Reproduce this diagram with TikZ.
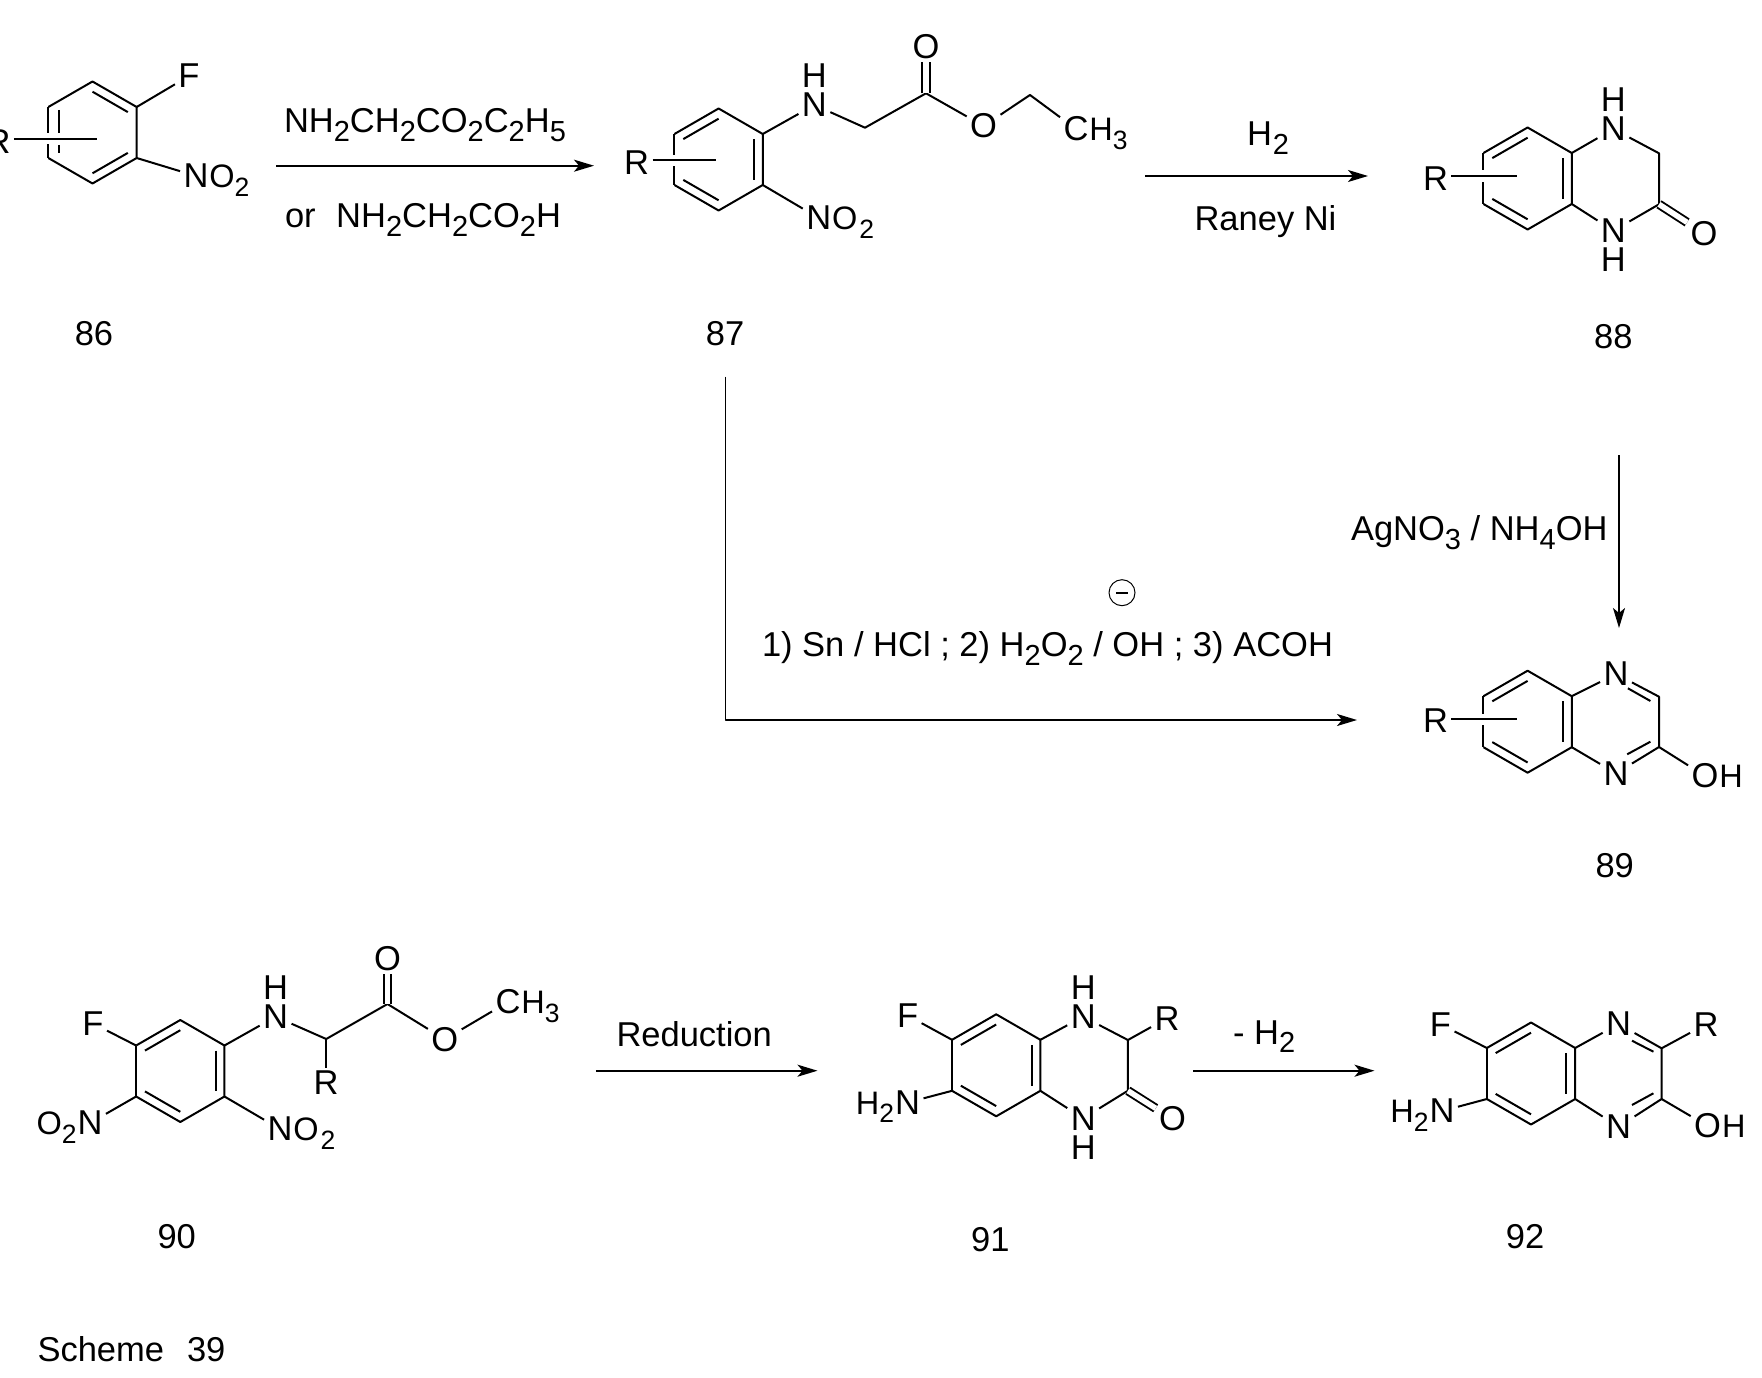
\documentclass[tikz,border=0pt]{standalone}
\usepackage{fontspec}
\setmainfont{Liberation Sans}
\usetikzlibrary{arrows.meta,calc}
\def\subsz{29}
\newcommand{\chemsub}[1]{\raisebox{-8.5pt}{\fontsize{\subsz}{\subsz}\selectfont #1}}
% open ring, corners 1 (top) clockwise to 6, left bond comes apart
\newcommand{\hexring}[3]{%
	\coordinate (#1c) at (#2,#3);
	\foreach \i/\a in {1/-90,2/-30,3/30,4/90,5/150,6/-150}
		\coordinate (#1-\i) at ($(#1c)+(\a:51)$);
	\draw (#1-6)--(#1-1)--(#1-2)--(#1-3)--(#1-4)--(#1-5);
}
\newcommand{\inbond}[3]{\draw ($(#1c)!.8!(#1-#2)$)--($(#1c)!.8!(#1-#3)$);}
\newcommand{\rgap}[2]{%
	\draw (#1-6)--(#1-6 |- 0,#2-5.5);
	\draw (#1-5)--(#1-5 |- 0,#2+5.5);
}
\tikzset{
	atom/.style={inner sep=0pt,outer sep=3.5pt},
	tailr/.style={inner sep=0pt,anchor=base west,xshift=-3.5pt,font=\fontsize{32.5}{36}\selectfont\def\subsz{26.5}},
	taill/.style={inner sep=0pt,anchor=base east,xshift=3.5pt,font=\fontsize{32.5}{36}\selectfont\def\subsz{26.5}},
	txt/.style={inner sep=0pt,anchor=base west},
	num/.style={inner sep=0pt,anchor=base},
	cdbl/.style={double,double distance=5.5pt,line width=1.9pt},
	rxn/.style={->,line width=1.8pt}
}
\begin{document}
\begin{tikzpicture}[>={Stealth[length=20pt,width=12pt,inset=5pt]},x=1pt,y=-1pt,line width=2pt,line join=round,
	every node/.style={font=\fontsize{34.5}{37}\selectfont}]
	\useasboundingbox (0,0) rectangle (1762,1378);
	\foreach \t/\x/\y in {86/94/345,87/725/345,88/1613.4/348.3,89/1614.7/877.3,90/176.7/1248.3,91/990.3/1251.7,92/1525/1248.3}
		\node[num] (n\t) at (\x,\y) {\t};
	% 86
	\hexring{r86}{92.5}{132.5}
	\rgap{r86}{139}
	\inbond{r86}{1}{2}
	\inbond{r86}{3}{4}
	\draw (58.5,110)--(58.5,133) (58.5,145)--(58.5,153);
	\node[atom] (F86) at (189,76) {F};
	\node[atom] (N86) at (196,176) {N};
	\node[tailr] (O86) at (N86.base east) {O\chemsub{2}};
	\node[atom] (R86) at (-2,142) {R};
	\coordinate (b86) at (97,139);
	\draw (r86-2)--(F86);
	\draw (r86-3)--(N86);
	\draw (R86.east |- b86)--(b86);
	% 86 to 87
	\coordinate (a1s) at (276,165.7);
	\coordinate (a1e) at (594,165.7);
	\draw[rxn] (a1s)--(a1e);
	\node[txt] (t1a) at (283,132.7) {NH\chemsub{2}CH\chemsub{2}CO\chemsub{2}C\chemsub{2}H\chemsub{5}};
	\node[txt] (t1b) at (284,227.7) {or\hspace{11pt} NH\chemsub{2}CH\chemsub{2}CO\chemsub{2}H};
	% 87
	\hexring{r87}{718.6}{159.5}
	\rgap{r87}{160.3}
	\inbond{r87}{6}{1}
	\inbond{r87}{2}{3}
	\inbond{r87}{4}{5}
	\node[atom] (R87) at (636.6,162.5) {R};
	\coordinate (b87) at (715.7,160.3);
	\draw (R87.east |- b87)--(b87);
	\node[atom] (N87) at (814.4,105) {N};
	\node[atom] (H87) at (814.4,76) {H};
	\node[atom] (Na87) at (818.7,218) {N};
	\node[tailr] (Oa87) at (Na87.base east) {O\hspace{2pt}\chemsub{2}};
	\node[atom] (O87) at (926,46.7) {O};
	\node[atom] (Oe87) at (983.6,126) {O};
	\node[atom] (C87) at (1076,129) {C};
	\node[tailr] (Ca87) at (C87.base east) {H\chemsub{3}};
	\coordinate (ca87) at (865,127.7);
	\coordinate (cb87) at (926,93.3);
	\coordinate (cc87) at (1030,95);
	\draw (r87-2)--(N87);
	\draw (r87-3)--(Na87);
	\draw (N87)--(ca87)--(cb87)--(Oe87)--(cc87)--(C87);
	\draw[cdbl] (cb87)--(O87);
	% 87 to 88
	\coordinate (a2s) at (1145,176);
	\coordinate (a2e) at (1368,176);
	\draw[rxn] (a2s)--(a2e);
	\node[txt] (t2a) at (1246,146) {H\hspace{1pt}\chemsub{2}};
	\node[num] (t2b) at (1265.5,230) {Raney Ni};
	% 88
	\hexring{r88}{1527.6}{178.5}
	\rgap{r88}{176}
	\inbond{r88}{6}{1}
	\inbond{r88}{2}{3}
	\inbond{r88}{4}{5}
	\node[atom] (R88) at (1435.5,179) {R};
	\coordinate (b88) at (1516.6,176);
	\draw (R88.east |- b88)--(b88);
	\node[atom] (Nt88) at (1613.4,129) {N};
	\node[atom] (Ht88) at (1613.4,100) {H};
	\node[atom] (Nb88) at (1613.4,230.7) {N};
	\node[atom] (Hb88) at (1613.4,260) {H};
	\node[atom] (O88) at (1704,233.3) {O};
	\coordinate (ca88) at (1659,153.3);
	\coordinate (cb88) at (1659,204.3);
	\draw (r88-2)--(Nt88)--(ca88)--(cb88)--(Nb88)--(r88-3);
	\draw[cdbl] (cb88)--(O88);
	% 88 to 89
	\coordinate (a3s) at (1619,455);
	\coordinate (a3e) at (1619,628);
	\draw[rxn] (a3s)--(a3e);
	\node[txt] (t3) at (1350,540.7) {AgNO\chemsub{3} / NH\chemsub{4}OH};
	% 87 to 89
	\coordinate (a4s) at (725.5,376.7);
	\coordinate (a4e) at (1357,720);
	\draw[rxn] (a4s) |- (a4e);
	\node[draw,circle,inner sep=0pt,minimum size=26pt,line width=1pt] (minus) at (1122,592.7) {\rule{12pt}{1.7pt}};
	\node[txt] (t4) at (761,656.7) {1) Sn / HCl ; 2) H\chemsub{2}O\chemsub{2} / OH ; 3) ACOH};
	% 89
	\hexring{r89}{1527.6}{721.7}
	\rgap{r89}{719}
	\inbond{r89}{6}{1}
	\inbond{r89}{2}{3}
	\inbond{r89}{4}{5}
	\node[atom] (R89) at (1435.5,721) {R};
	\coordinate (b89) at (1516.6,719);
	\draw (R89.east |- b89)--(b89);
	\node[atom] (Nt89) at (1616,674) {N};
	\node[atom] (Nb89) at (1616,773.3) {N};
	\node[atom] (O89) at (1705,776) {O};
	\node[tailr] (Oa89) at (O89.base east) {H};
	\coordinate (ca89) at (1659,696.7);
	\coordinate (cb89) at (1659,747);
	\draw (r89-2)--(Nt89)--(ca89)--(cb89)--(Nb89)--(r89-3);
	\draw (cb89)--(O89);
	\draw (1627.9,688.3)--(1650.4,701) (1627.2,754.3)--(1650.4,741.7);
	% 90
	\hexring{r90}{180.3}{1071}
	\draw (r90-5)--(r90-6);
	\inbond{r90}{6}{1}
	\inbond{r90}{2}{3}
	\inbond{r90}{4}{5}
	\node[atom] (F90) at (93,1023.5) {F};
	\node[atom] (Nl90) at (90,1123) {N};
	\node[taill] (Ol90) at (Nl90.base west) {O\chemsub{2}};
	\node[atom] (Nr90) at (280,1129) {N};
	\node[tailr] (Or90) at (Nr90.base east) {O\hspace{2pt}\chemsub{2}};
	\node[atom] (N90) at (275.6,1016.7) {N};
	\node[atom] (H90) at (275.6,987.3) {H};
	\node[atom] (R90) at (326.2,1083) {R};
	\node[atom] (O90) at (387.5,958.3) {O};
	\node[atom] (Oe90) at (444.8,1039.3) {O};
	\node[atom] (C90) at (508,1002) {C};
	\node[tailr] (Ca90) at (C90.base east) {H\chemsub{3}};
	\coordinate (ca90) at (326.2,1039);
	\coordinate (cb90) at (387.5,1004);
	\draw (r90-6)--(F90);
	\draw (r90-5)--(Nl90);
	\draw (r90-3)--(Nr90);
	\draw (r90-2)--(N90)--(ca90)--(cb90)--(Oe90)--(C90);
	\draw (ca90)--(R90);
	\draw[cdbl] (cb90)--(O90);
	% 90 to 91
	\coordinate (a5s) at (595.9,1070.7);
	\coordinate (a5e) at (817.5,1070.7);
	\draw[rxn] (a5s)--(a5e);
	\node[txt] (t5) at (615.5,1046) {Reduction};
	% 91
	\hexring{r91}{996.2}{1065.3}
	\draw (r91-5)--(r91-6);
	\inbond{r91}{6}{1}
	\inbond{r91}{2}{3}
	\inbond{r91}{4}{5}
	\node[atom] (F91) at (907.6,1015.5) {F};
	\node[atom] (Nl91) at (907.6,1102.5) {N};
	\node[taill] (Hl91) at (Nl91.base west) {H\chemsub{2}};
	\node[atom] (Nt91) at (1083.2,1016.7) {N};
	\node[atom] (Ht91) at (1083.2,987.3) {H};
	\node[atom] (Nb91) at (1083.2,1118.3) {N};
	\node[atom] (Hb91) at (1083.2,1147.3) {H};
	\node[atom] (R91) at (1167,1018.2) {R};
	\node[atom] (O91) at (1172.6,1119) {O};
	\coordinate (ca91) at (1127.9,1040);
	\coordinate (cb91) at (1127.9,1090.7);
	\draw (r91-6)--(F91);
	\draw (r91-5)--(Nl91);
	\draw (r91-2)--(Nt91)--(ca91)--(cb91)--(Nb91)--(r91-3);
	\draw (ca91)--(R91);
	\draw[cdbl] (cb91)--(O91);
	% 91 to 92
	\coordinate (a6s) at (1193,1070.7);
	\coordinate (a6e) at (1374.5,1070.7);
	\draw[rxn] (a6s)--(a6e);
	\node[txt] (t6) at (1232,1044) {- H\chemsub{2}};
	% 92
	\hexring{r92}{1531}{1073.5}
	\draw (r92-5)--(r92-6);
	\inbond{r92}{6}{1}
	\inbond{r92}{2}{3}
	\inbond{r92}{4}{5}
	\node[atom] (F92) at (1440.5,1024.2) {F};
	\node[atom] (Nl92) at (1442,1111) {N};
	\node[taill] (Hl92) at (Nl92.base west) {H\chemsub{2}};
	\node[atom] (Nt92) at (1618.6,1024) {N};
	\node[atom] (Nb92) at (1618.6,1126.7) {N};
	\node[atom] (R92) at (1706,1024.2) {R};
	\node[atom] (O92) at (1707.6,1126) {O};
	\node[tailr] (Oa92) at (O92.base east) {H};
	\coordinate (ca92) at (1661.6,1048.3);
	\coordinate (cb92) at (1661.6,1099);
	\draw (r92-6)--(F92);
	\draw (r92-5)--(Nl92);
	\draw (r92-2)--(Nt92)--(ca92)--(cb92)--(Nb92)--(r92-3);
	\draw (ca92)--(R92);
	\draw (cb92)--(O92);
	\draw (1632,1040.7)--(1653.4,1051.7) (1632,1105)--(1653.4,1093.3);
	\node[txt] (cap) at (36.5,1361.7) {Scheme\hspace{23pt}39};
\end{tikzpicture}
\end{document}
